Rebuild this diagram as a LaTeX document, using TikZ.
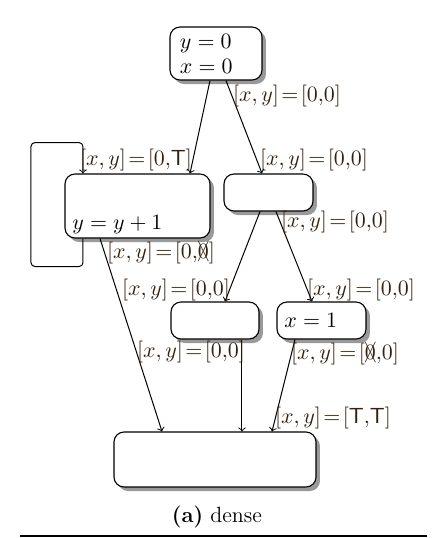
\documentclass[tikz,border=0pt]{standalone}
\usepackage{amsmath}
\usepackage{cancel}
\usetikzlibrary{shadows,calc}
\definecolor{labc}{RGB}{52,32,16}
\newcommand{\lb}[1]{{\thickmuskip=2mu\relax$#1$}}
\begin{document}
\begin{tikzpicture}[x=0.5pt,y=-0.5pt,
  box/.style={draw, rounded corners=5pt, fill=white, line width=0.55pt,
    drop shadow={shadow xshift=2pt, shadow yshift=-2pt, fill=black!40, opacity=1},
    inner sep=0pt, font=\fontsize{10.5}{12.5}\selectfont},
  lab/.style={text=labc, inner sep=0pt, font=\fontsize{11}{13}\selectfont},
  arr/.style={->, line width=0.5pt}]
\useasboundingbox (0,0) rectangle (437,538);

% nodes
\node[box, minimum width=46pt, minimum height=26.5pt, text width=36pt, align=left] (top) at (216,53.5) {$y=0$\\$x=0$};
\node[box, minimum width=72.5pt, minimum height=32pt, text width=65pt, align=left] (lm) at (137.5,206) {\mbox{}\\[13pt]$y=y+1$};
\node[box, minimum width=44.5pt, minimum height=18.5pt] (rm) at (268.5,192.5) {};
\node[box, minimum width=44pt, minimum height=18.5pt] (ms) at (215,320.5) {};
\node[box, minimum width=44.5pt, minimum height=18.5pt, text width=37pt, align=left] (x1) at (321.5,320.5) {$x=1$};
\node[box, minimum width=101pt, minimum height=27.5pt] (bt) at (215,459.5) {};

% edges
\draw[arr] ([xshift=-3pt]top.south) -- ([xshift=26.25pt]lm.north);
\draw[arr] ([xshift=5pt]top.south) -- ([xshift=-3.25pt]rm.north);
\draw[arr, rounded corners=2pt] ([xshift=-27.25pt]lm.south) -- ++(0,-14pt) -- ++(-26pt,0) -- ++(0,62pt) -- ++(26pt,0) -- ([xshift=-27.25pt]lm.north);
\draw[arr] ([xshift=-4.25pt]rm.south) -- ([xshift=5pt]ms.north);
\draw[arr] ([xshift=3.75pt]rm.south) -- ([xshift=-4.75pt]x1.north);
\draw[arr] ([xshift=-18.75pt]lm.south) -- ([xshift=-26.5pt]bt.north);
\draw[arr] ([xshift=13.5pt]ms.south) -- ([xshift=13.5pt]bt.north);
\draw[arr] ([xshift=-13.25pt]x1.south) -- ([xshift=28.5pt]bt.north);

% labels
\node[lab] (l1) at (287,96) {\lb{[x,y]=[0{,}0]}};
\node[lab] (l2) at (136,160) {\lb{[x,y]=[0{,}\mathsf{T}]}};
\node[lab] (l3) at (314,160) {\lb{[x,y]=[0{,}0]}};
\node[lab] (l4) at (335,222) {\lb{[x,y]=[0{,}0]}};
\node[lab] (l5) at (161,253) {\lb{[x,y]=[0{,}\xcancel{0}]}};
\node[lab] (l6) at (176,290) {\lb{[x,y]=[0{,}0]}};
\node[lab] (l7) at (361,290) {\lb{[x,y]=[0{,}0]}};
\node[lab] (l8) at (191,352) {\lb{[x,y]=[0{,}0]}};
\node[lab] (l9) at (345,354) {\lb{[x,y]=[\xcancel{0}{,}0]}};
\node[lab] (l10) at (333,418) {\lb{[x,y]=[\mathsf{T}{,}\mathsf{T}]}};

% caption
\node[inner sep=0pt, font=\fontsize{11}{13}\selectfont] (cap) at (217,517) {\textbf{(a)} dense};
\coordinate (r1) at (20,536);
\coordinate (r2) at (427,536);
\draw[line width=0.7pt] (r1) -- (r2);
\end{tikzpicture}
\end{document}
